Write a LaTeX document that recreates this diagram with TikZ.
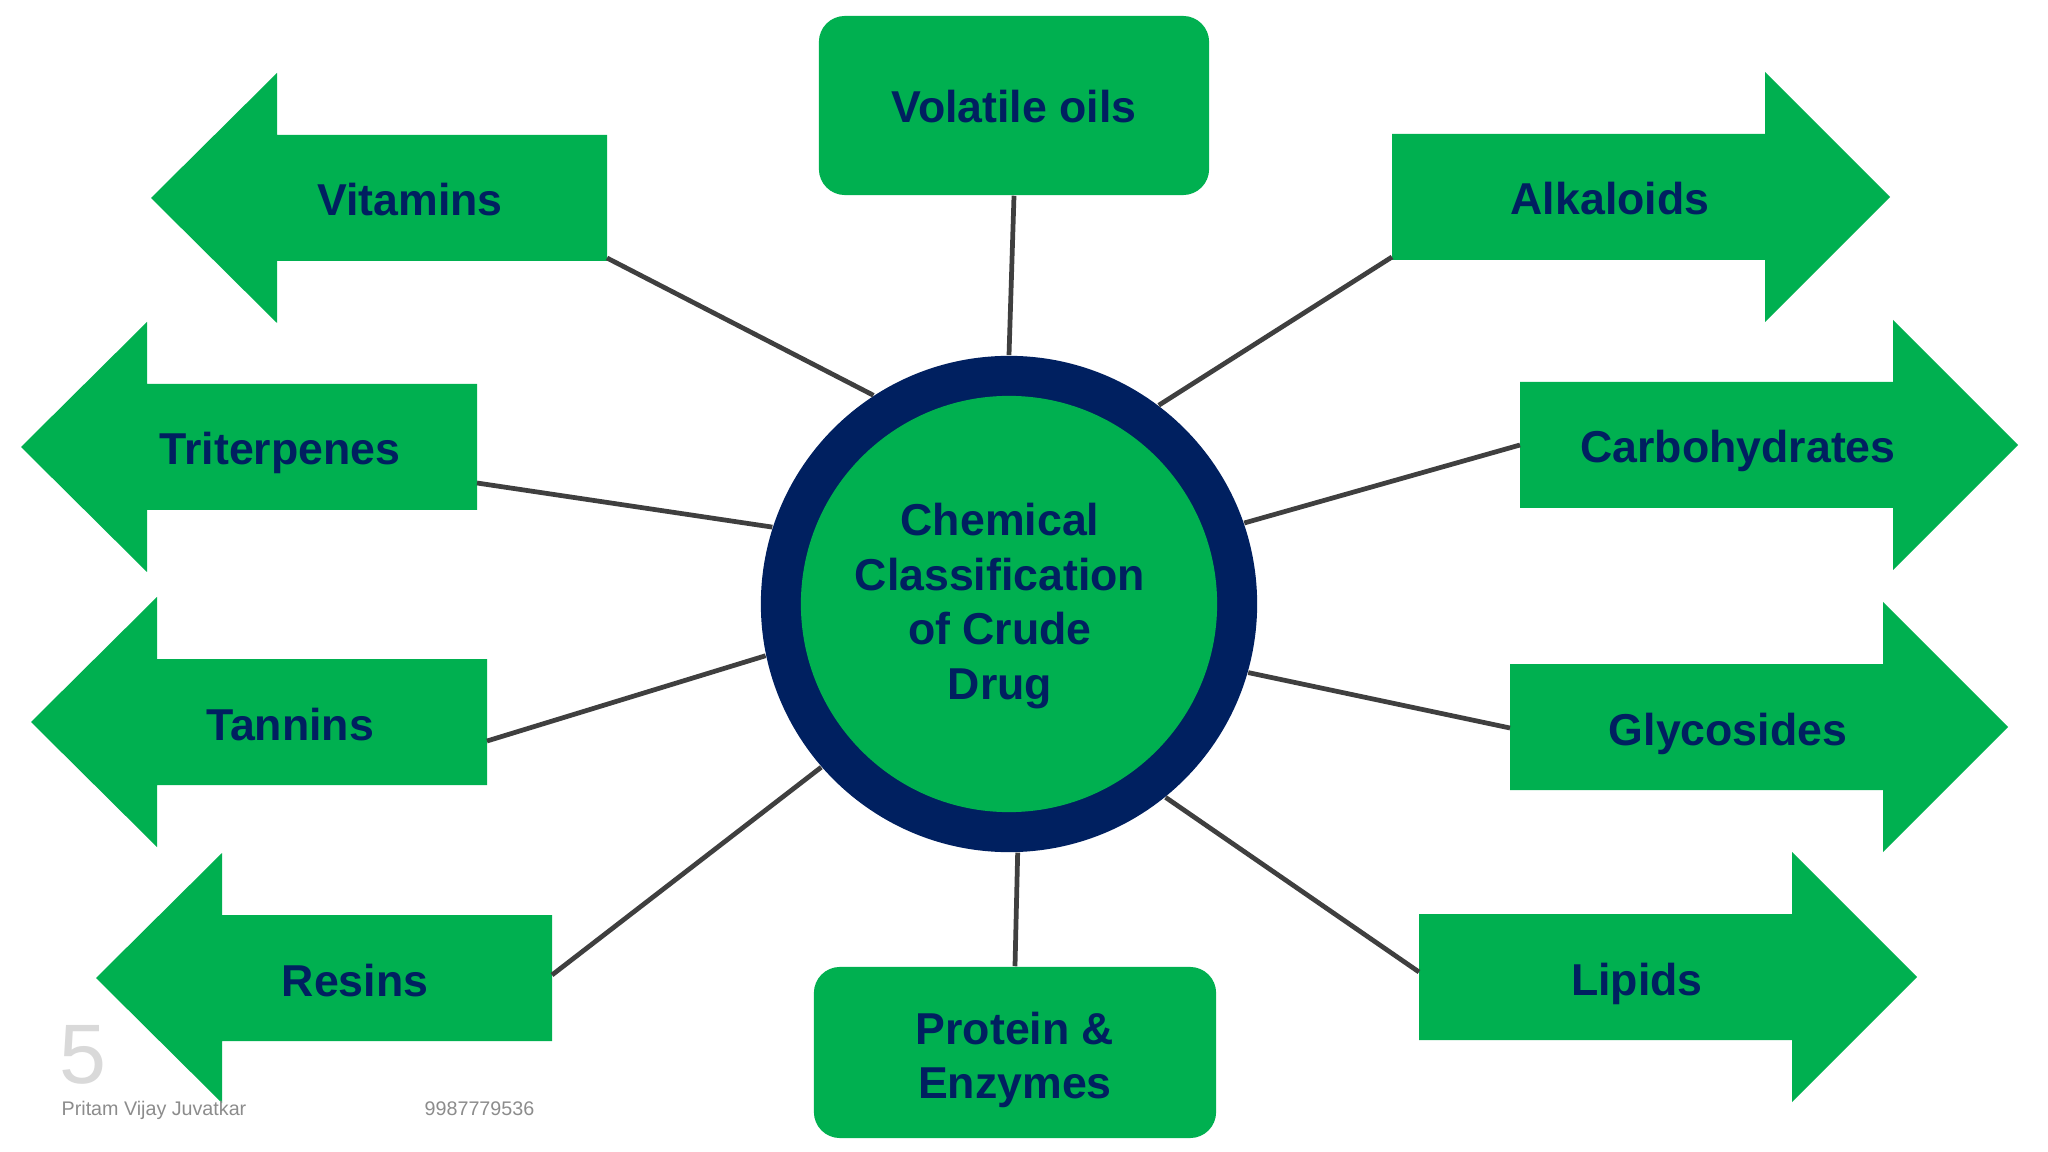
\documentclass[tikz,border=0pt]{standalone}
\usepackage{fontspec}
\setmainfont{Liberation Sans}
\usetikzlibrary{positioning}
\definecolor{leaf}{HTML}{00B050}
\definecolor{navy}{HTML}{002060}
\definecolor{wiregray}{HTML}{3F3F3F}
\definecolor{footgray}{HTML}{8C8C8C}
\definecolor{pagegray}{HTML}{D9D9D9}

% block arrow to the left: name, tip x, tip y, port y, text
\newcommand{\westarrow}[5]{%
  \fill[leaf] (#2,#3) -- ++(126,-125) -- ++(0,62) -- ++(330,0) -- ++(0,126)
    -- ++(-330,0) -- ++(0,62) -- cycle;
  \node[txt, anchor=base] (#1) at (#2+259,#3+18) {#5};
  \coordinate (#1-port) at (#2+456,#4);
}
% block arrow to the right: name, tip x, tip y, port y, text
\newcommand{\eastarrow}[5]{%
  \fill[leaf] (#2,#3) -- ++(-125,-125) -- ++(0,62) -- ++(-373,0) -- ++(0,126)
    -- ++(373,0) -- ++(0,62) -- cycle;
  \node[txt, anchor=base] (#1) at (#2-280,#3+18) {#5};
  \coordinate (#1-port) at (#2-498,#4);
}

\begin{document}
\begin{tikzpicture}[
    x=0.01cm, y=-0.01cm,
    txt/.style={font=\fontsize{12.7}{15.6}\selectfont\bfseries, text=navy, align=center, inner sep=0pt},
    pill/.style={txt, fill=leaf, rounded corners=0.26cm, minimum width=3.9cm, minimum height=1.79cm},
    wire/.style={draw=wiregray, line width=1.35pt},
    foot/.style={font=\fontsize{5.6}{6}\selectfont, text=footgray, anchor=base west, inner sep=0pt},
  ]
  \useasboundingbox (0,0) rectangle (2048,1152);
  \fill[white] (0,0) rectangle (2048,1152);

  % Hub
  \node[circle, fill=navy, minimum size=4.96cm, inner sep=0pt] (hub) at (1009,604) {};
  \node[circle, fill=leaf, minimum size=4.16cm, inner sep=0pt] (core) at (hub.center) {};
  \node[txt] (title) at (1000,606) {Chemical\\Classification\\of Crude\\Drug};

  % Top and bottom boxes
  \node[pill] (volatile) at (1014,105.5) {};
  \node[txt] (volatile-text) at (1014,107) {Volatile oils};
  \node[pill, minimum width=4.02cm, minimum height=1.71cm] (protein) at (1015,1052.5) {};
  \node[txt] (protein-text) at (1015,1060) {Protein \&\\Enzymes};

  % Left arrows
  \westarrow{vitamins}{151}{198}{258}{Vitamins}
  \westarrow{triterpenes}{21}{447}{483}{Triterpenes}
  \westarrow{tannins}{31}{722}{741}{Tannins}
  \westarrow{resins}{96}{978}{975}{Resins}

  % Right arrows
  \eastarrow{alkaloids}{1890}{197}{257}{Alkaloids}
  \eastarrow{carbohydrates}{2018}{445}{445}{Carbohydrates}
  \eastarrow{glycosides}{2008}{727}{728}{Glycosides}
  \eastarrow{lipids}{1917}{977}{972}{Lipids}

  % Connectors
  \draw[wire] (volatile.south) -- (hub.north);
  \draw[wire] (vitamins-port) -- (hub.123);
  \draw[wire] (alkaloids-port) -- (hub.53);
  \draw[wire] (triterpenes-port) -- (hub.162);
  \draw[wire] (carbohydrates-port) -- (hub.19);
  \draw[wire] (tannins-port) -- (hub.192);
  \draw[wire] (glycosides-port) -- (hub.344);
  \draw[wire] (resins-port) -- (hub.221);
  \draw[wire] (protein.north) -- (hub.272);
  \draw[wire] (lipids-port) -- (hub.309);

  % Footer
  \node[font=\fontsize{24}{24}\selectfont, text=pagegray, anchor=base west, inner sep=0pt] (pagenum) at (59,1083) {5};
  \node[foot] (author) at (61,1115) {Pritam Vijay Juvatkar};
  \node[foot] (phone) at (424,1115) {9987779536};
\end{tikzpicture}
\end{document}
